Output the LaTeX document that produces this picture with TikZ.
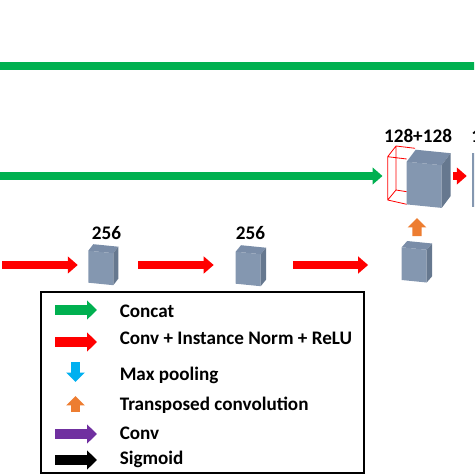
\documentclass[tikz,border=0pt]{standalone}
\usepackage{fontspec}
\setmainfont{Carlito}
\usetikzlibrary{positioning, arrows.meta, fit}
\definecolor{cubefront}{HTML}{8497B0}
\definecolor{cubetop}{HTML}{7A8DA8}
\definecolor{cubeside}{HTML}{66788F}
\definecolor{concat}{HTML}{00B050}
\definecolor{orangeup}{HTML}{ED7D31}
\definecolor{bluedown}{HTML}{00B0F0}
\definecolor{convpurple}{HTML}{7030A0}
\tikzset{
  fatarrow/.style={line width=6.5pt, -{Triangle[length=7.5pt, width=12.5pt]}},
  keyarrow/.style={line width=7pt, -{Triangle[length=7.5pt, width=14pt]}},
  updown/.style={line width=7pt, -{Triangle[length=7pt, width=13.5pt]}},
  sizelabel/.style={font=\fontsize{14.4}{14.4}\bfseries, inner sep=0pt},
  keytext/.style={font=\fontsize{14.35}{14.35}\bfseries, inner sep=0pt, anchor=west},
}
\newcommand{\cubeblock}[7]{
  \fill[cubefront] (#2,#3) -- (#2+#4,#3+#4*0.1) -- (#2+#4,#3+#4*0.1+#5) -- (#2,#3+#5) -- cycle;
  \fill[cubetop] (#2,#3) -- (#2+#6,#3+#7) -- (#2+#4+#6,#3+#4*0.1+#7) -- (#2+#4,#3+#4*0.1) -- cycle;
  \fill[cubeside] (#2+#4,#3+#4*0.1) -- (#2+#4+#6,#3+#4*0.1+#7) -- (#2+#4+#6,#3+#4*0.1+#7+#5) -- (#2+#4,#3+#4*0.1+#5) -- cycle;
  \node[fit={(#2,#3+#7) (#2+#4+#6,#3+#4*0.1+#5)}, inner sep=0pt] (#1) {};
}

\begin{document}
\begin{tikzpicture}[x=0.75pt, y=-0.75pt]
  \path[use as bounding box, clip] (0,0) rectangle (474,474);

  % skip connections
  \coordinate (topa) at (-5,66);
  \coordinate (topb) at (480,66);
  \draw[draw=concat, line width=6.5pt] (topa) -- (topb);

  \coordinate (midin) at (-12,176);
  \coordinate (midout) at (382.5,176);
  \draw[fatarrow, concat] (midin) -- (midout);

  % transposed block with the red outline
  \coordinate (wa) at (387.7,156.7);
  \coordinate (wb) at (396,146);
  \coordinate (wc) at (415,148.3);
  \coordinate (wd) at (406.7,159);
  \coordinate (we) at (387.7,200);
  \coordinate (wf) at (406.7,204.3);
  \coordinate (wg) at (396,190);
  \coordinate (wh) at (406.7,191.7);
  \draw[red, line width=0.6pt] (wa) -- (wb) -- (wc) (wa) -- (wd) (wa) -- (we) -- (wf)
    (wb) -- (wg) -- (wh) (we) -- (wg);

  \cubeblock{cubea}{88.3}{250.7}{25}{32}{5}{-6.5}
  \cubeblock{cubeb}{235.7}{251.7}{25}{32}{5.3}{-6.5}
  \cubeblock{cubec}{401.7}{247.3}{25}{32.7}{5.5}{-6.3}
  \cubeblock{cubed}{406.7}{161.7}{35}{42.7}{9}{-12}
  \fill[cubefront] (471.7,153) rectangle (480,207);
  \node[fit={(471.7,153) (480,207)}, inner sep=0pt] (cubee) {};

  \node[sizelabel] (lblA) at (106.5,233) {256};
  \node[sizelabel] (lblB) at (250.5,233) {256};
  \node[sizelabel] (lblC) at (418,136) {128+128};
  \node[sizelabel, anchor=west] (lblD) at (471,136) {128};

  % forward path
  \coordinate (redin) at (2,265);
  \coordinate (upout) at (417,218);
  \draw[fatarrow, red, shorten >=7.7pt] (redin) -- (cubea.west |- redin);
  \draw[fatarrow, red, shorten <=14.8pt, shorten >=16.3pt] (cubea.east |- redin) -- (cubeb.west |- redin);
  \draw[fatarrow, red, shorten <=20pt, shorten >=25pt] (cubeb.east |- redin) -- (cubec.west |- redin);
  \draw[fatarrow, red, shorten <=1.7pt, shorten >=3.5pt] (cubed.east |- midout) -- (cubee.west |- midout);
  \draw[updown, orangeup, shorten <=3.5pt] (cubec.north) -- (upout);

  % legend
  \node[draw=black, line width=1.3pt, fit={(41,292) (364,473)}, inner sep=0pt] (legend) {};
  \coordinate (ka) at (55,310);
  \coordinate (kb) at (97,310);
  \draw[keyarrow, concat] (ka) -- (kb);
  \coordinate (kc) at (55,342);
  \coordinate (kd) at (97,342);
  \draw[keyarrow, red] (kc) -- (kd);
  \coordinate (ke) at (75.5,362);
  \coordinate (kf) at (75.5,382);
  \draw[updown, bluedown] (ke) -- (kf);
  \coordinate (kg) at (75.5,412);
  \coordinate (kh) at (75.5,396);
  \draw[updown, orangeup] (kg) -- (kh);
  \coordinate (ki) at (55,434);
  \coordinate (kj) at (97,434);
  \draw[keyarrow, convpurple] (ki) -- (kj);
  \coordinate (kk) at (55,460);
  \coordinate (kl) at (97,460);
  \draw[keyarrow, black] (kk) -- (kl);

  \node[keytext] (txtA) at (119.5,311) {Concat};
  \node[keytext] (txtB) at (119.5,338) {Conv + Instance Norm + ReLU};
  \node[keytext] (txtC) at (119.5,375) {Max pooling};
  \node[keytext] (txtD) at (119.5,405) {Transposed convolution};
  \node[keytext] (txtE) at (119.5,433) {Conv};
  \node[keytext] (txtF) at (119.5,459) {Sigmoid};
\end{tikzpicture}
\end{document}
